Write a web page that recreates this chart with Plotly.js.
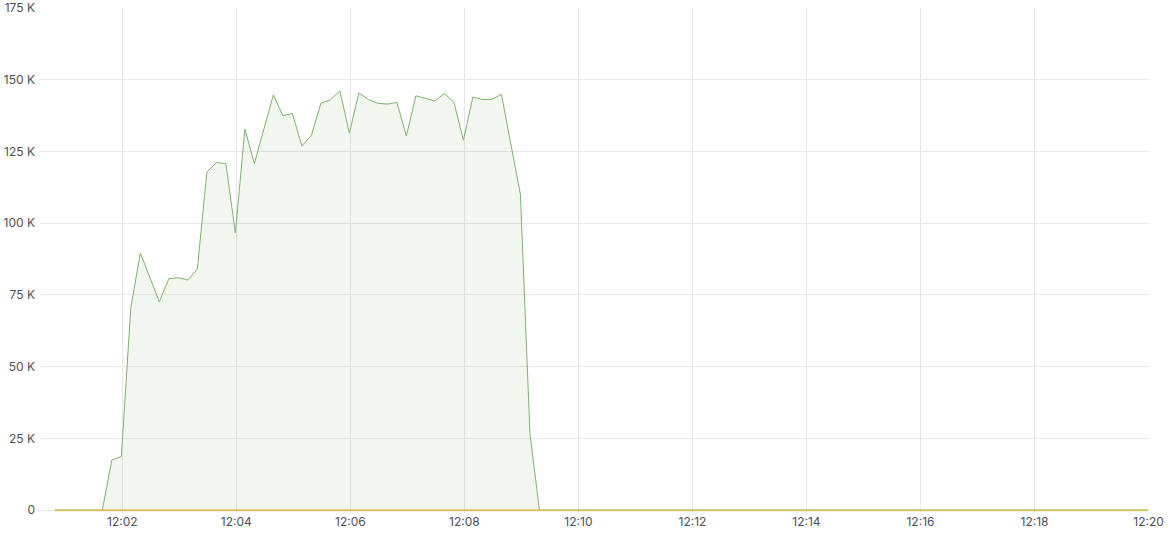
<!DOCTYPE html>
<html>
<head>
<meta charset="utf-8">
<script src="https://cdn.plot.ly/plotly-3.0.1.min.js"></script>
<style>
  html, body { margin: 0; padding: 0; background: #ffffff; }
  #chart { width: 1168px; height: 538px; }
</style>
</head>
<body>
<div id="chart"></div>
<script>
// Series A (green): timestamps and values (requests)
var timesA = [
  "2024-01-01 12:00:49", "2024-01-01 12:00:59", "2024-01-01 12:01:09", "2024-01-01 12:01:19",
  "2024-01-01 12:01:29", "2024-01-01 12:01:39", "2024-01-01 12:01:49", "2024-01-01 12:01:59",
  "2024-01-01 12:02:09", "2024-01-01 12:02:19", "2024-01-01 12:02:39", "2024-01-01 12:02:49",
  "2024-01-01 12:02:59", "2024-01-01 12:03:09", "2024-01-01 12:03:19", "2024-01-01 12:03:29",
  "2024-01-01 12:03:39", "2024-01-01 12:03:49", "2024-01-01 12:03:59", "2024-01-01 12:04:09",
  "2024-01-01 12:04:19", "2024-01-01 12:04:39", "2024-01-01 12:04:49", "2024-01-01 12:04:59",
  "2024-01-01 12:05:09", "2024-01-01 12:05:19", "2024-01-01 12:05:29", "2024-01-01 12:05:39",
  "2024-01-01 12:05:49", "2024-01-01 12:05:59", "2024-01-01 12:06:09", "2024-01-01 12:06:19",
  "2024-01-01 12:06:29", "2024-01-01 12:06:39", "2024-01-01 12:06:49", "2024-01-01 12:06:59",
  "2024-01-01 12:07:09", "2024-01-01 12:07:19", "2024-01-01 12:07:29", "2024-01-01 12:07:39",
  "2024-01-01 12:07:49", "2024-01-01 12:07:59", "2024-01-01 12:08:09", "2024-01-01 12:08:19",
  "2024-01-01 12:08:29", "2024-01-01 12:08:39", "2024-01-01 12:08:59", "2024-01-01 12:09:09",
  "2024-01-01 12:09:19", "2024-01-01 12:19:59"
];
var valuesA = [
  0, 0, 0, 0,
  0, 0, 17500, 18700,
  70600, 89600, 72600, 80700,
  81000, 80200, 84000, 117800,
  121100, 120800, 96600, 132800,
  120800, 144700, 137500, 138200,
  126900, 130600, 141800, 143000,
  146100, 131400, 145400, 143100,
  141800, 141500, 142100, 130400,
  144400, 143500, 142600, 145200,
  142200, 128900, 144000, 143100,
  143200, 144900, 110000, 26800,
  0, 0
];

// Series B (yellow): flat at zero over the whole range
var timesB = ["2024-01-01 12:00:49", "2024-01-01 12:19:59"];
var valuesB = [0, 0];

// Axis ticks
var yTickVals = [0, 25000, 50000, 75000, 100000, 125000, 150000, 175000];
var yTickText = ["0", "25 K", "50 K", "75 K", "100 K", "125 K", "150 K", "175 K"];

var traceA = {
  x: timesA, y: valuesA, type: "scatter", mode: "lines",
  line: { color: "#7eb26d", width: 1 },
  fill: "tozeroy", fillcolor: "rgba(126,178,109,0.11)",
  hoverinfo: "x+y", showlegend: false
};
var traceB = {
  x: timesB, y: valuesB, type: "scatter", mode: "lines",
  line: { color: "#d6c166", width: 2 },
  hoverinfo: "x+y", showlegend: false
};

var layout = {
  width: 1168, height: 538,
  margin: { l: 40, r: 19, t: 8, b: 25, pad: 0 },
  paper_bgcolor: "#ffffff", plot_bgcolor: "#ffffff",
  font: { family: "Inter, Roboto, 'Noto Sans', sans-serif", size: 12, color: "#4b4f56" },
  showlegend: false,
  xaxis: {
    type: "date",
    range: ["2024-01-01 12:00:33.4", "2024-01-01 12:20:00.5"],
    tick0: "2024-01-01 12:00:00", dtick: 120000,
    tickformat: "%H:%M",
    showgrid: true, gridcolor: "#e6e6e6", gridwidth: 1,
    zeroline: false, showline: false, ticks: "",
    ticklabelstandoff: 0,
    fixedrange: true
  },
  yaxis: {
    range: [-1000, 175000],
    tickmode: "array", tickvals: yTickVals, ticktext: yTickText,
    showgrid: true, gridcolor: "#e6e6e6", gridwidth: 1,
    zeroline: false, showline: false, ticks: "",
    ticklabelstandoff: 4,
    fixedrange: true
  }
};

Plotly.newPlot("chart", [traceA, traceB], layout, { displayModeBar: false, staticPlot: true });
</script>
</body>
</html>
